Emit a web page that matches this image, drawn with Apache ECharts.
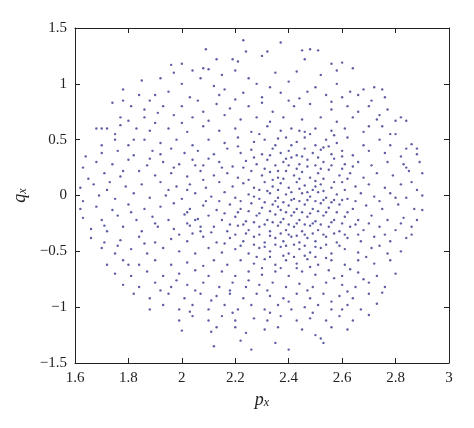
<!DOCTYPE html><html><head><meta charset="utf-8"><script src="https://cdn.jsdelivr.net/npm/echarts@6/dist/echarts.min.js"></script></head><body style="margin:0;background:#fff"><div id="c" style="width:474px;height:428px"></div><script>
const xTicks=[1.6,1.8,2,2.2,2.4,2.6,2.8,3];
const yTicks=[-1.5,-1,-0.5,0,0.5,1,1.5];
const points=[
[2.09,1.31],[2.23,1.39],[2.37,1.37],[2.48,1.31],[2.51,1.3],[2.24,1.29],[2.32,1.29],[2.45,1.3],
[2.13,1.22],[2.19,1.22],[2.30,1.25],[2.46,1.22],[2.56,1.18],[2.6,1.19],[2.64,1.14],[2.0,1.18],[1.96,1.17],[2.08,1.14],[2.21,1.2],
[2.04,1.12],[2.1,1.13],[2.2,1.12],[2.35,1.1],[2.43,1.11],[2.58,1.12],[2.52,1.08],[2.25,1.05],[1.97,1.1],[2.15,1.08],
[1.85,1.03],[1.92,1.05],[2.0,1.0],[2.07,1.05],[2.12,0.98],[2.28,1.0],[2.33,0.97],[2.4,1.02],[2.5,0.97],[2.58,1.0],[2.68,0.95],[2.72,0.97],[2.75,0.95],[1.78,0.95],
[1.78,0.85],[1.84,0.9],[1.9,0.9],[1.95,0.93],[2.03,0.88],[2.14,0.9],[2.2,0.86],[2.3,0.88],[2.37,0.92],[2.44,0.87],[2.54,0.9],[2.6,0.88],[2.66,0.9],[2.71,0.85],[2.76,0.88],[1.88,0.85],
[1.74,0.83],[1.81,0.8],[1.86,0.77],[1.93,0.8],[2.0,0.8],[2.08,0.75],[2.13,0.82],[2.18,0.78],[2.25,0.8],[2.34,0.75],[2.42,0.8],[2.48,0.82],[2.56,0.77],[2.62,0.8],[2.7,0.8],[2.77,0.77],[2.82,0.7],[2.66,0.75],
[1.7,0.6],[1.77,0.7],[1.8,0.67],[1.86,0.7],[1.9,0.65],[1.97,0.72],[2.04,0.7],[2.1,0.67],[2.16,0.72],[2.22,0.68],[2.28,0.7],[2.33,0.66],[2.38,0.7],[2.45,0.68],[2.52,0.7],[2.58,0.66],[2.64,0.7],[2.73,0.68],[2.8,0.67],[2.84,0.67],[1.72,0.6],
[1.68,0.6],[1.75,0.55],[1.83,0.6],[1.88,0.58],[1.95,0.6],[2.02,0.57],[2.08,0.62],[2.14,0.58],[2.2,0.6],[2.26,0.57],[2.32,0.62],[2.37,0.58],[2.41,0.6],[2.46,0.57],[2.5,0.6],[2.56,0.58],[2.61,0.6],[2.68,0.57],[2.75,0.62],[2.8,0.55],[2.86,0.46],
[1.7,0.45],[1.75,0.5],[1.8,0.45],[1.86,0.5],[1.92,0.47],[1.98,0.5],[2.04,0.45],[2.1,0.5],[2.16,0.47],[2.21,0.52],[2.27,0.48],[2.31,0.5],[2.35,0.45],[2.39,0.52],[2.43,0.48],[2.46,0.52],[2.5,0.45],[2.54,0.5],[2.58,0.47],[2.62,0.52],[2.68,0.45],[2.74,0.5],[2.78,0.45],[2.84,0.42],[2.88,0.42],
[1.64,0.35],[1.7,0.38],[1.76,0.4],[1.82,0.36],[1.89,0.4],[1.96,0.42],[2.01,0.38],[2.06,0.4],[2.12,0.37],[2.17,0.42],[2.22,0.38],[2.26,0.41],[2.3,0.37],[2.34,0.42],[2.37,0.38],[2.4,0.4],[2.43,0.36],[2.46,0.42],[2.49,0.38],[2.52,0.41],[2.56,0.37],[2.6,0.4],[2.64,0.36],[2.7,0.4],[2.76,0.38],[2.82,0.35],[2.88,0.37],
[1.63,0.25],[1.68,0.3],[1.74,0.28],[1.8,0.32],[1.87,0.27],[1.93,0.3],[1.99,0.28],[2.04,0.32],[2.08,0.27],[2.14,0.3],[2.19,0.26],[2.24,0.31],[2.28,0.28],[2.32,0.32],[2.35,0.27],[2.38,0.3],[2.41,0.34],[2.44,0.28],[2.47,0.32],[2.5,0.27],[2.53,0.3],[2.57,0.33],[2.61,0.28],[2.66,0.3],[2.71,0.27],[2.77,0.3],[2.83,0.28],[2.89,0.3],
[1.65,0.15],[1.71,0.2],[1.77,0.17],[1.84,0.22],[1.9,0.18],[1.96,0.2],[2.02,0.17],[2.07,0.22],[2.12,0.18],[2.17,0.2],[2.21,0.16],[2.26,0.22],[2.3,0.18],[2.33,0.21],[2.36,0.16],[2.39,0.22],[2.42,0.18],[2.45,0.21],[2.48,0.16],[2.51,0.2],[2.55,0.23],[2.59,0.18],[2.63,0.2],[2.68,0.16],[2.73,0.2],[2.79,0.18],[2.85,0.22],[2.9,0.2],
[1.62,0.07],[1.67,0.1],[1.73,0.12],[1.79,0.08],[1.85,0.1],[1.92,0.12],[1.98,0.08],[2.03,0.1],[2.09,0.07],[2.14,0.12],[2.19,0.08],[2.23,0.11],[2.27,0.07],[2.31,0.12],[2.34,0.08],[2.37,0.11],[2.4,0.07],[2.43,0.12],[2.46,0.09],[2.49,0.05],[2.52,0.1],[2.56,0.07],[2.6,0.12],[2.65,0.08],[2.7,0.1],[2.76,0.07],[2.82,0.1],[2.88,0.05],
[1.63,-0.05],[1.69,0.0],[1.75,-0.03],[1.82,0.02],[1.88,-0.02],[1.94,0.0],[2.0,-0.03],[2.05,0.02],[2.11,-0.01],[2.16,0.03],[2.2,-0.02],[2.25,0.01],[2.29,-0.03],[2.33,0.02],[2.36,-0.02],[2.39,0.01],[2.42,-0.03],[2.45,0.02],[2.48,-0.01],[2.51,0.03],[2.54,-0.02],[2.58,0.01],[2.62,-0.03],[2.67,0.02],[2.72,-0.01],[2.78,0.02],[2.84,-0.02],[2.9,0.0],
[1.62,-0.12],[1.68,-0.1],[1.74,-0.13],[1.8,-0.08],[1.86,-0.12],[1.92,-0.1],[1.97,-0.07],[2.03,-0.12],[2.08,-0.09],[2.13,-0.13],[2.18,-0.08],[2.22,-0.12],[2.26,-0.07],[2.3,-0.11],[2.34,-0.08],[2.37,-0.13],[2.4,-0.09],[2.43,-0.12],[2.46,-0.08],[2.49,-0.12],[2.52,-0.07],[2.55,-0.11],[2.59,-0.08],[2.64,-0.12],[2.69,-0.09],[2.75,-0.12],[2.81,-0.08],[2.87,-0.12],[2.9,-0.13],
[1.63,-0.2],[1.7,-0.22],[1.76,-0.18],[1.83,-0.22],[1.89,-0.19],[1.95,-0.22],[2.01,-0.17],[2.06,-0.21],[2.1,-0.18],[2.15,-0.22],[2.2,-0.19],[2.24,-0.23],[2.28,-0.18],[2.32,-0.22],[2.35,-0.17],[2.38,-0.21],[2.41,-0.18],[2.44,-0.22],[2.47,-0.19],[2.5,-0.23],[2.53,-0.18],[2.57,-0.22],[2.61,-0.19],[2.66,-0.22],[2.71,-0.18],[2.77,-0.22],[2.83,-0.2],[2.88,-0.22],
[1.66,-0.3],[1.72,-0.32],[1.78,-0.28],[1.85,-0.32],[1.91,-0.28],[1.97,-0.3],[2.03,-0.27],[2.07,-0.32],[2.12,-0.28],[2.17,-0.32],[2.21,-0.27],[2.25,-0.31],[2.29,-0.28],[2.33,-0.32],[2.36,-0.27],[2.39,-0.31],[2.42,-0.28],[2.45,-0.32],[2.48,-0.27],[2.51,-0.31],[2.55,-0.28],[2.59,-0.32],[2.63,-0.28],[2.68,-0.31],[2.74,-0.28],[2.8,-0.31],[2.86,-0.28],
[1.66,-0.38],[1.71,-0.42],[1.77,-0.4],[1.84,-0.37],[1.9,-0.42],[1.96,-0.39],[2.02,-0.41],[2.08,-0.37],[2.13,-0.42],[2.18,-0.38],[2.23,-0.41],[2.27,-0.37],[2.31,-0.42],[2.35,-0.38],[2.38,-0.41],[2.41,-0.37],[2.44,-0.42],[2.47,-0.38],[2.5,-0.41],[2.54,-0.37],[2.58,-0.42],[2.62,-0.38],[2.67,-0.41],[2.72,-0.37],[2.78,-0.41],[2.84,-0.38],
[1.7,-0.47],[1.75,-0.52],[1.81,-0.48],[1.87,-0.52],[1.93,-0.47],[1.99,-0.5],[2.05,-0.52],[2.1,-0.47],[2.15,-0.51],[2.2,-0.48],[2.25,-0.52],[2.29,-0.47],[2.33,-0.5],[2.37,-0.46],[2.4,-0.52],[2.44,-0.48],[2.48,-0.51],[2.52,-0.47],[2.56,-0.52],[2.61,-0.48],[2.66,-0.51],[2.71,-0.47],[2.77,-0.52],[2.82,-0.5],
[1.72,-0.62],[1.78,-0.58],[1.84,-0.62],[1.9,-0.58],[1.96,-0.62],[2.02,-0.6],[2.08,-0.63],[2.12,-0.58],[2.17,-0.62],[2.22,-0.58],[2.27,-0.61],[2.31,-0.57],[2.35,-0.62],[2.39,-0.58],[2.43,-0.61],[2.47,-0.57],[2.51,-0.62],[2.56,-0.58],[2.61,-0.62],[2.66,-0.58],[2.72,-0.61],[2.78,-0.58],
[1.75,-0.7],[1.81,-0.72],[1.87,-0.68],[1.93,-0.72],[1.99,-0.7],[2.05,-0.67],[2.1,-0.72],[2.15,-0.68],[2.2,-0.72],[2.25,-0.68],[2.3,-0.71],[2.35,-0.68],[2.4,-0.72],[2.45,-0.68],[2.5,-0.71],[2.55,-0.67],[2.6,-0.72],[2.66,-0.69],[2.73,-0.72],[2.8,-0.7],
[1.78,-0.8],[1.84,-0.82],[1.9,-0.78],[1.96,-0.82],[2.02,-0.8],[2.08,-0.78],[2.14,-0.82],[2.19,-0.78],[2.24,-0.82],[2.29,-0.8],[2.34,-0.78],[2.39,-0.82],[2.44,-0.79],[2.49,-0.82],[2.54,-0.78],[2.6,-0.8],[2.65,-0.82],[2.7,-0.78],[2.76,-0.82],
[1.82,-0.88],[1.88,-0.92],[1.95,-0.88],[2.01,-0.92],[2.07,-0.88],[2.13,-0.9],[2.18,-0.88],[2.23,-0.92],[2.28,-0.88],[2.33,-0.9],[2.38,-0.92],[2.43,-0.88],[2.48,-0.92],[2.53,-0.88],[2.59,-0.9],[2.64,-0.92],[2.7,-0.88],[2.75,-0.87],
[1.88,-1.02],[1.93,-0.98],[1.99,-1.02],[2.04,-0.98],[2.1,-1.02],[2.16,-0.98],[2.21,-1.02],[2.26,-0.98],[2.31,-1.02],[2.36,-0.98],[2.41,-1.02],[2.46,-1.0],[2.51,-0.98],[2.56,-1.02],[2.62,-0.98],[2.67,-1.02],[2.73,-0.97],
[1.99,-1.12],[2.04,-1.08],[2.1,-1.12],[2.15,-1.08],[2.2,-1.12],[2.27,-1.1],[2.32,-1.12],[2.37,-1.08],[2.43,-1.12],[2.48,-1.1],[2.54,-1.12],[2.59,-1.08],[2.64,-1.12],[2.7,-1.07],
[2.0,-1.21],[2.11,-1.22],[2.2,-1.18],[2.24,-1.23],[2.31,-1.2],[2.36,-1.18],[2.45,-1.2],[2.5,-1.25],[2.56,-1.18],[2.62,-1.2],[2.13,-1.18],
[2.12,-1.35],[2.22,-1.3],[2.26,-1.38],[2.35,-1.32],[2.4,-1.38],[2.52,-1.28],[2.53,-1.32]
];
const extraPoints=[
[2.21,0.44],[2.29,0.55],[2.36,0.51],[2.41,0.45],[2.48,0.55],[2.53,0.43],[2.57,0.54],[2.44,0.58],[2.33,0.36],[2.39,0.33],[2.45,0.35],[2.51,0.34],[2.55,0.44],[2.6,0.35],
[2.23,0.25],[2.27,0.34],[2.31,0.24],[2.36,0.22],[2.4,0.27],[2.43,0.24],[2.47,0.26],[2.52,0.24],[2.56,0.27],[2.6,0.24],[2.64,0.26],[2.34,0.14],[2.38,0.15],[2.44,0.15],[2.5,0.13],
[2.53,0.15],[2.57,0.12],[2.62,0.15],[2.25,0.14],[2.29,0.05],[2.32,0.04],[2.36,0.05],[2.41,0.03],[2.44,0.06],[2.47,0.03],[2.5,0.08],[2.53,0.04],[2.57,-0.04],[2.61,0.05],
[2.22,-0.05],[2.27,-0.01],[2.31,-0.06],[2.35,-0.05],[2.38,-0.06],[2.41,-0.04],[2.44,-0.05],[2.47,-0.04],[2.5,-0.05],[2.53,-0.04],[2.56,-0.06],[2.6,-0.04],[2.65,-0.05],
[2.21,-0.15],[2.25,-0.14],[2.29,-0.16],[2.33,-0.14],[2.36,-0.1],[2.39,-0.15],[2.42,-0.15],[2.45,-0.15],[2.48,-0.16],[2.51,-0.14],[2.54,-0.15],[2.58,-0.15],[2.62,-0.15],
[2.23,-0.26],[2.27,-0.24],[2.31,-0.26],[2.34,-0.24],[2.37,-0.24],[2.4,-0.26],[2.43,-0.25],[2.46,-0.26],[2.49,-0.25],[2.52,-0.26],[2.56,-0.24],[2.6,-0.25],[2.65,-0.26],
[2.2,-0.35],[2.24,-0.34],[2.29,-0.35],[2.33,-0.36],[2.37,-0.34],[2.4,-0.35],[2.43,-0.36],[2.46,-0.35],[2.49,-0.34],[2.53,-0.35],[2.57,-0.34],[2.61,-0.35],[2.66,-0.35],
[2.22,-0.45],[2.27,-0.44],[2.31,-0.46],[2.35,-0.44],[2.39,-0.45],[2.42,-0.44],[2.46,-0.45],[2.5,-0.46],[2.54,-0.44],[2.59,-0.45],[2.28,-0.55],[2.33,-0.55],[2.38,-0.54],
[2.42,-0.55],[2.46,-0.54],[2.5,-0.55],[2.54,-0.56],[2.3,-0.65],[2.37,-0.65],[2.43,-0.65],[2.48,-0.64],[2.05,-0.22],[2.07,-0.28],[2.04,-0.34],[2.02,-0.25],[1.99,-0.35],
[1.92,0.37],[1.97,0.25],[2.05,0.27],[2.1,0.33],[2.15,0.25],[2.02,0.05],[2.08,0.14],[2.14,-0.05],[2.09,-0.05],[2.02,-0.15],[2.16,-0.16],[2.16,-0.43],[2.11,-0.33],[2.18,-0.26],
[1.78,0.22],[1.72,0.05],[1.81,-0.15],[1.71,-0.27],[1.76,-0.45],[1.8,-0.62],[1.86,-0.43],[1.9,-0.25],[1.95,0.05],[1.88,0.33],[1.82,0.5],[1.77,0.63],[1.91,0.74],[2.0,0.65],
[2.06,0.85],[2.16,0.95],[2.23,0.92],[2.3,0.83],[2.4,0.85],[2.47,0.93],[2.56,0.84],[2.63,0.93],[2.74,0.72],[2.7,0.62],[2.78,0.55],[2.84,0.25],[2.86,0.12],[2.8,-0.02],
[2.74,-0.05],[2.7,-0.25],[2.76,-0.35],[2.82,-0.25],[2.86,-0.35],[2.74,-0.45],[2.69,-0.55],[2.63,-0.66],[2.57,-0.74],[2.68,-0.75],[2.62,-0.86],[2.56,-0.95],[2.47,-0.85],
[2.4,-0.95],[2.32,-0.85],[2.25,-0.76],[2.18,-0.85],[2.11,-0.94],[2.05,-0.85],[1.98,-0.76],[1.92,-0.85],[2.03,-1.04],[2.19,-1.05],[2.33,-1.05],[2.49,-1.05],[2.6,-1.02]
];
const font='"Liberation Serif","DejaVu Serif",serif';
const ax=(min,max,interval)=>({min,max,interval,axisLine:{show:true,onZero:false,lineStyle:{color:'#222',width:1}},
 axisTick:{inside:true,length:5,lineStyle:{color:'#222'}},splitLine:{show:false},
 axisLabel:{color:'#222',fontFamily:font,fontSize:15,formatter:v=>String(+v.toFixed(1)).replace('-','\u2212')}});
const c=echarts.init(document.getElementById('c'));
c.setOption({animation:false,
 grid:{left:75,right:25,top:28,bottom:65},
 xAxis:[Object.assign(ax(1.6,3,0.2),{name:'{i|p}{s|x}',nameLocation:'middle',nameGap:28,nameTextStyle:{rich:{i:{fontFamily:font,fontStyle:'italic',fontSize:18,color:'#222'},s:{fontFamily:font,fontStyle:'italic',fontSize:12,color:'#222',padding:[6,0,0,0]}}}}),
  Object.assign(ax(1.6,3,0.2),{position:'top',axisLabel:{show:false}})],
 yAxis:[Object.assign(ax(-1.5,1.5,0.5),{name:'{i|q}{s|x}',nameLocation:'middle',nameGap:46,nameRotate:90,nameTextStyle:{rich:{i:{fontFamily:font,fontStyle:'italic',fontSize:18,color:'#222'},s:{fontFamily:font,fontStyle:'italic',fontSize:12,color:'#222',padding:[6,0,0,0]}}}}),
  Object.assign(ax(-1.5,1.5,0.5),{position:'right',axisLabel:{show:false}})],
 series:[{type:'scatter',data:points.concat(extraPoints),symbolSize:2.4,itemStyle:{color:'#34348e'}}]
});
</script></body></html>
